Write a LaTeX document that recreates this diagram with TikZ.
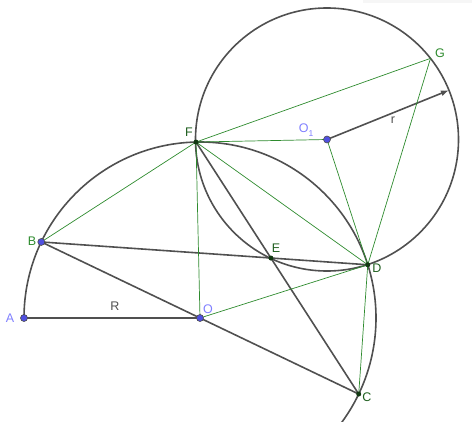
\documentclass[tikz,border=0pt]{standalone}
\usepackage{fontspec}
\setmainfont{Liberation Sans}
\usetikzlibrary{arrows.meta,calc}
\definecolor{dk}{HTML}{505050}
\definecolor{gr}{HTML}{2E8B2E}
\definecolor{dgr}{HTML}{1E5E1E}
\definecolor{lav}{HTML}{8080FF}
\definecolor{ptb}{HTML}{5050E0}
\tikzset{
  thick line/.style={draw=dk, line width=1.6pt},
  green line/.style={draw=gr, line width=0.7pt},
  bdot/.style={circle, fill=ptb, draw=black!70, line width=0.6pt, inner sep=0pt, minimum size=7pt},
  kdot/.style={circle, fill=dgr!60!black, inner sep=0pt, minimum size=5pt},
  lbl/.style={font=\fontsize{12.5}{13}\selectfont, inner sep=0pt}
}
\begin{document}
\begin{tikzpicture}[x=1pt,y=-1pt]
\useasboundingbox (0,0) rectangle (474,422);
\clip (0,0) rectangle (474,422);
\fill[gray!7] (363,0) rectangle (472,3);
% points
\coordinate (O) at (200,318);
\coordinate (A) at ($(O)+(180:176)$);
\coordinate (B) at ($(O)+(205.6:176)$);
\coordinate (C) at ($(O)+(25.6:176)$);
\coordinate (F) at ($(O)+(268.7:176)$);
\coordinate (D) at ($(O)+(342.4:176)$);
\coordinate (O1) at (327,139.5);
\coordinate (G) at ($(O1)+(321.9:131.5)$);
\coordinate (T) at ($(O1)+(338:131.5)$);
\coordinate (E) at (intersection of B--D and F--C);
% circles
\draw[thick line] (A) arc[start angle=180, end angle=400, radius=176];
\draw[thick line] (O1) circle[radius=131.5];
% dark segments
\draw[thick line] (A) -- (O);
\draw[thick line] (B) -- (C);
\draw[thick line] (B) -- (D);
\draw[thick line] (F) -- (C);
\draw[thick line, -{Latex[length=8pt,width=6pt]}] (O1) -- (T);
% green segments
\draw[green line] (B) -- (F);
\draw[green line] (F) -- (G);
\draw[green line] (F) -- (O1);
\draw[green line] (F) -- (D);
\draw[green line] (F) -- (O);
\draw[green line] (O) -- (D);
\draw[green line] (O1) -- (D);
\draw[green line] (G) -- (D);
\draw[green line] (D) -- (C);
% dots
\node[bdot] (pA) at (A) {};
\node[bdot] (pB) at (B) {};
\node[bdot] (pO) at (O) {};
\node[bdot] (pO1) at (O1) {};
\node[kdot] (pF) at (F) {};
\node[kdot] (pE) at (E) {};
\node[kdot] (pD) at (D) {};
\node[kdot] (pC) at (C) {};
% labels
\node[lbl, text=lav] (lA) at (10,318) {A};
\node[lbl, text=gr] (lB) at (32,241) {B};
\node[lbl, text=lav] (lO) at (208,309) {O};
\node[lbl, text=dk] (lR) at (115,306) {R};
\node[lbl, text=dgr] (lF) at (189,132) {F};
\node[lbl, text=lav] (lO1) at (306,130) {O\raisebox{-3.5pt}{\fontsize{8.5}{9}\selectfont 1}};
\node[lbl, text=dk] (lr) at (393,120) {r};
\node[lbl, text=gr] (lG) at (440,53) {G};
\node[lbl, text=dgr] (lE) at (276,248) {E};
\node[lbl, text=dgr] (lD) at (377,268) {D};
\node[lbl, text=dgr] (lC) at (367,397) {C};
\end{tikzpicture}
\end{document}
